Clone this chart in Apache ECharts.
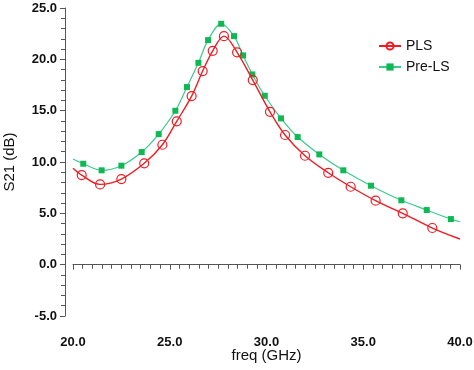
<!DOCTYPE html>
<html>
<head>
<meta charset="utf-8">
<script src="https://cdn.jsdelivr.net/npm/echarts@6/dist/echarts.min.js"></script>
<style>html,body{margin:0;padding:0;background:#fff}#c{width:474px;height:370px}</style>
</head>
<body>
<div id="c"></div>
<script>
// PLS curve: first and last points are curve ends (no marker)
const plsFreq = [20.0, 20.45, 21.4, 22.5, 23.68, 24.62, 25.36, 26.13, 26.7, 27.22, 27.8, 28.48, 29.29, 30.18, 30.96, 31.99, 33.19, 34.35, 35.64, 37.04, 38.57, 40.0];
const plsS21  = [9.4, 8.73, 7.82, 8.34, 9.87, 11.68, 13.96, 16.42, 18.86, 20.83, 22.26, 20.68, 17.98, 14.89, 12.63, 10.61, 8.95, 7.59, 6.23, 5.0, 3.57, 2.5];
// Pre-LS curve
const preFreq = [20.0, 20.53, 21.48, 22.5, 23.55, 24.43, 25.29, 25.89, 26.48, 26.98, 27.66, 28.32, 28.79, 29.27, 29.91, 30.75, 31.61, 32.73, 33.97, 35.4, 36.97, 38.28, 39.53, 40.0];
const preS21  = [10.29, 9.83, 9.19, 9.64, 10.97, 12.72, 14.99, 17.3, 19.66, 21.87, 23.46, 22.26, 20.38, 18.53, 16.45, 14.25, 12.43, 10.74, 9.19, 7.69, 6.27, 5.32, 4.44, 4.18];
const seriesNames = ['PLS', 'Pre-LS'];
const xName = 'freq (GHz)';
const yName = 'S21 (dB)';

function build(fx, fy) {
  return fx.map((x, i) => {
    const item = { value: [x, fy[i]] };
    if (i === 0 || i === fx.length - 1) item.symbol = 'none';
    return item;
  });
}

const chart = echarts.init(document.getElementById('c'), null, { renderer: 'canvas' });
const font = '"Liberation Sans", Arial, sans-serif';
const axisCommon = {
  axisLine: { show: true, lineStyle: { color: '#555', width: 1 } },
  axisTick: { show: true, length: 5, lineStyle: { color: '#555' } },
  minorTick: { show: true, length: 4, lineStyle: { color: '#555' } },
  splitLine: { show: false },
  axisLabel: { color: '#111', fontSize: 13, fontWeight: 'bold', fontFamily: font, formatter: v => v.toFixed(1) },
  nameLocation: 'middle',
  nameMoveOverlap: false,
  nameTextStyle: { color: '#111', fontSize: 15, fontFamily: font }
};
chart.setOption({
  animation: false,
  backgroundColor: '#fff',
  grid: { left: 73, right: 14, top: 8, bottom: 54, containLabel: false, outerBoundsMode: 'none' },
  legend: {
    orient: 'vertical', left: 373, top: 34, itemWidth: 22, itemHeight: 9, itemGap: 7,
    textStyle: { fontSize: 14, color: '#111', fontFamily: font },
    data: seriesNames
  },
  xAxis: Object.assign({}, axisCommon, {
    type: 'value', min: 20, max: 40, interval: 5, offset: 7,
    minorTick: Object.assign({}, axisCommon.minorTick, { splitNumber: 10 }),
    axisLabel: Object.assign({}, axisCommon.axisLabel, { margin: 13 }),
    name: xName, nameGap: 25
  }),
  yAxis: Object.assign({}, axisCommon, {
    type: 'value', min: -5, max: 25, interval: 5, offset: 8,
    minorTick: Object.assign({}, axisCommon.minorTick, { splitNumber: 5 }),
    axisLabel: Object.assign({}, axisCommon.axisLabel, { margin: 8 }),
    name: yName, nameGap: 48
  }),
  series: [
    {
      name: seriesNames[0], type: 'line', smooth: 0.35,
      data: build(plsFreq, plsS21),
      symbol: 'circle', symbolSize: 9, showAllSymbol: true,
      lineStyle: { color: '#ee1c24', width: 1.4 },
      itemStyle: { color: 'rgba(255,255,255,0)', borderColor: '#ee1c24', borderWidth: 1.2 },
      z: 3
    },
    {
      name: seriesNames[1], type: 'line', smooth: 0.35,
      data: build(preFreq, preS21),
      symbol: 'rect', symbolSize: 6, showAllSymbol: true,
      lineStyle: { color: '#3ccb8e', width: 1.2 },
      itemStyle: { color: '#10b854', borderWidth: 0 },
      z: 2
    }
  ]
});
</script>
</body>
</html>
